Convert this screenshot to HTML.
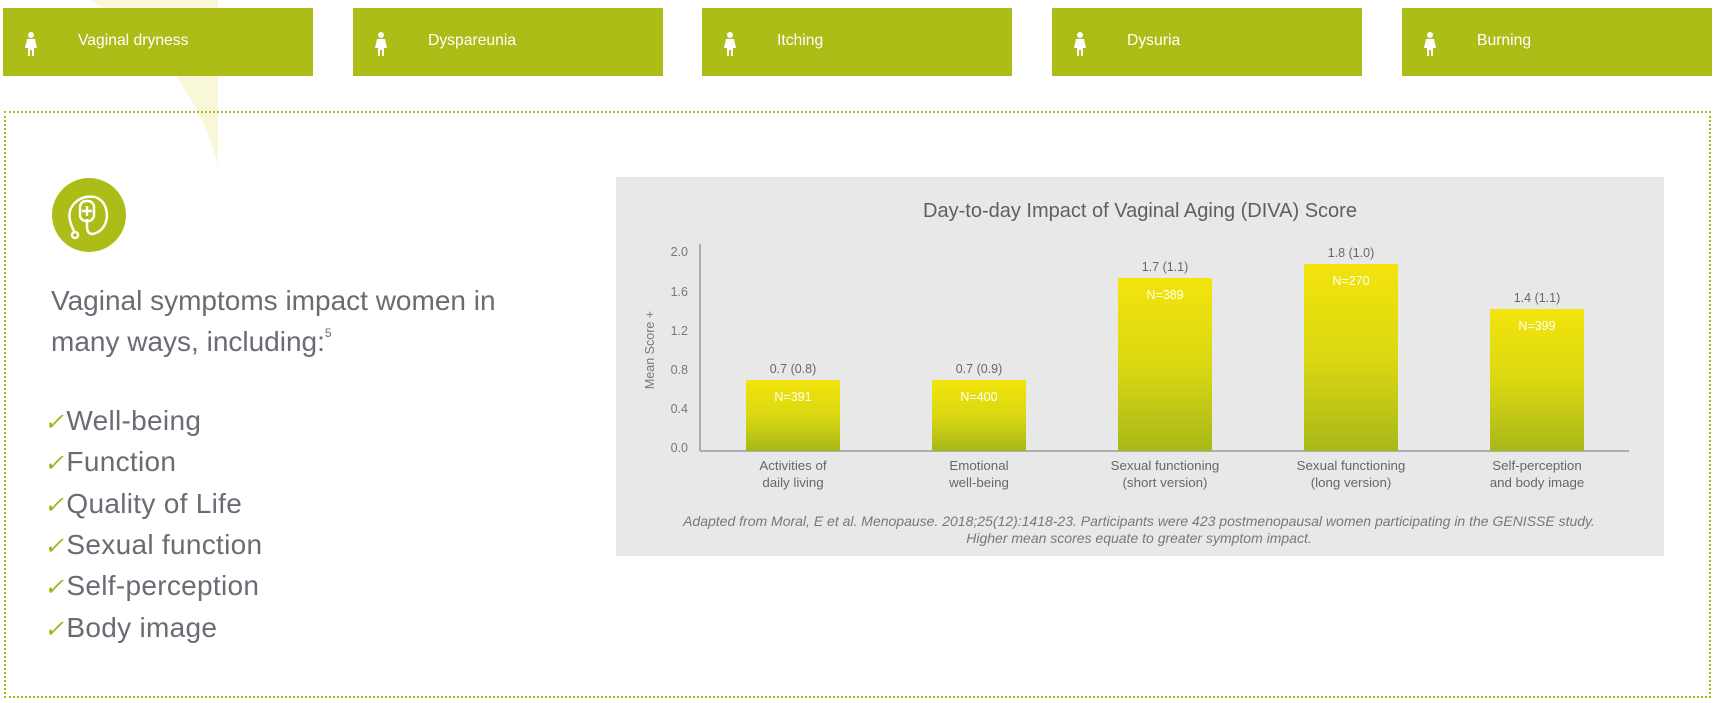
<!DOCTYPE html>
<html><head><meta charset="utf-8"><style>
body{margin:0;width:1721px;height:703px;background:#fff;position:relative;overflow:hidden;font-family:"Liberation Sans",sans-serif}
.box{position:absolute;top:8px;height:68px;width:310px;background:#acbd17;color:#fff;font-size:15.7px}
.box span{position:absolute;left:75px;top:24px}
.box svg{position:absolute;left:21px;top:24px}
.frame{position:absolute;left:4px;top:111px;width:1703px;height:583px;border:2px dotted #a9bc1a}
.li{position:absolute;left:44px;font-size:28px;color:#6b6b74;letter-spacing:0.3px}
.li b{color:#9cb71a;font-weight:normal;font-style:italic;font-size:24px;margin-right:2px}
</style></head><body>
<svg style="position:absolute;left:0;top:0" width="260" height="170"><path d="M90 0 Q190 60 218 165 L218 0 Z" fill="#f8f7d8"/></svg>
<div class="box" style="left:3px"><svg width="14" height="24" viewBox="0 0 14 24"><circle cx="7" cy="3" r="3" fill="#fff"/><path d="M3 7h8l2 9h-3v8h-2v-6h-2v6H4v-8H1z" fill="#fff"/></svg><span>Vaginal dryness</span></div>
<div class="box" style="left:353px"><svg width="14" height="24" viewBox="0 0 14 24"><circle cx="7" cy="3" r="3" fill="#fff"/><path d="M3 7h8l2 9h-3v8h-2v-6h-2v6H4v-8H1z" fill="#fff"/></svg><span>Dyspareunia</span></div>
<div class="box" style="left:702px"><svg width="14" height="24" viewBox="0 0 14 24"><circle cx="7" cy="3" r="3" fill="#fff"/><path d="M3 7h8l2 9h-3v8h-2v-6h-2v6H4v-8H1z" fill="#fff"/></svg><span>Itching</span></div>
<div class="box" style="left:1052px"><svg width="14" height="24" viewBox="0 0 14 24"><circle cx="7" cy="3" r="3" fill="#fff"/><path d="M3 7h8l2 9h-3v8h-2v-6h-2v6H4v-8H1z" fill="#fff"/></svg><span>Dysuria</span></div>
<div class="box" style="left:1402px"><svg width="14" height="24" viewBox="0 0 14 24"><circle cx="7" cy="3" r="3" fill="#fff"/><path d="M3 7h8l2 9h-3v8h-2v-6h-2v6H4v-8H1z" fill="#fff"/></svg><span>Burning</span></div>
<div class="frame"></div>
<svg style="position:absolute;left:51px;top:177px" width="76" height="76" viewBox="0 0 76 76"><ellipse cx="38" cy="38" rx="37" ry="37" fill="#acbd17"/><g fill="none" stroke="#fff" stroke-width="2.5"><path d="M24 56 Q14 38 22 28 Q30 18 44 20 Q56 24 56 40 Q54 54 42 57 Q36 57 36 50 V42"/><rect x="29" y="24" width="14" height="20" rx="6"/><circle cx="24" cy="58" r="3"/><path d="M36 29v10M31 34h10"/></g></svg>
<div style="position:absolute;left:51px;top:280px;font-size:28px;line-height:41px;color:#6b6b74;white-space:nowrap">Vaginal symptoms impact women in<br>many ways, including:<sup style="font-size:12px;line-height:0;vertical-align:14px">5</sup></div>
<div class="li" style="top:405px"><b>✓</b>Well-being</div>
<div class="li" style="top:446px"><b>✓</b>Function</div>
<div class="li" style="top:488px"><b>✓</b>Quality of Life</div>
<div class="li" style="top:529px"><b>✓</b>Sexual function</div>
<div class="li" style="top:570px"><b>✓</b>Self-perception</div>
<div class="li" style="top:612px"><b>✓</b>Body image</div>
<svg style="position:absolute;left:0;top:0" width="1721" height="703" font-family="Liberation Sans, sans-serif">
<defs><linearGradient id="g" x1="0" y1="0" x2="0" y2="1"><stop offset="0" stop-color="#f3e40c"/><stop offset="0.5" stop-color="#dbd812"/><stop offset="1" stop-color="#a7b818"/></linearGradient></defs>
<rect x="616" y="177" width="1048" height="379" fill="#e8e8e8"/>
<text x="1140" y="217" font-size="20" fill="#5e5e66" text-anchor="middle">Day-to-day Impact of Vaginal Aging (DIVA) Score</text>
<g font-size="12.5" fill="#77777f" text-anchor="end"><text x="688" y="256">2.0</text><text x="688" y="296">1.6</text><text x="688" y="335">1.2</text><text x="688" y="374">0.8</text><text x="688" y="413">0.4</text><text x="688" y="452">0.0</text></g>
<text transform="translate(654,350) rotate(-90)" font-size="12.5" fill="#77777f" text-anchor="middle">Mean Score +</text>
<line x1="700" y1="244" x2="700" y2="451" stroke="#999" stroke-width="1.5"/>
<line x1="700" y1="451" x2="1629" y2="451" stroke="#999" stroke-width="1.5"/>
<g fill="url(#g)"><rect x="746" y="380" width="94" height="71"/><rect x="932" y="380" width="94" height="71"/><rect x="1118" y="278" width="94" height="173"/><rect x="1304" y="264" width="94" height="187"/><rect x="1490" y="309" width="94" height="142"/></g>
<g font-size="12.5" fill="#66666e" text-anchor="middle"><text x="793" y="373">0.7 (0.8)</text><text x="979" y="373">0.7 (0.9)</text><text x="1165" y="271">1.7 (1.1)</text><text x="1351" y="257">1.8 (1.0)</text><text x="1537" y="302">1.4 (1.1)</text></g>
<g font-size="12.5" fill="#fff" text-anchor="middle"><text x="793" y="401">N=391</text><text x="979" y="401">N=400</text><text x="1165" y="299">N=389</text><text x="1351" y="285">N=270</text><text x="1537" y="330">N=399</text></g>
<g font-size="13.3" fill="#66666e" text-anchor="middle"><text x="793" y="470">Activities of</text><text x="793" y="487">daily living</text><text x="979" y="470">Emotional</text><text x="979" y="487">well-being</text><text x="1165" y="470">Sexual functioning</text><text x="1165" y="487">(short version)</text><text x="1351" y="470">Sexual functioning</text><text x="1351" y="487">(long version)</text><text x="1537" y="470">Self-perception</text><text x="1537" y="487">and body image</text></g>
<g font-size="14" fill="#77777f" font-style="italic" text-anchor="middle"><text x="1139" y="526">Adapted from Moral, E et al. Menopause. 2018;25(12):1418-23. Participants were 423 postmenopausal women participating in the GENISSE study.</text><text x="1139" y="543">Higher mean scores equate to greater symptom impact.</text></g>
</svg>
</body></html>
